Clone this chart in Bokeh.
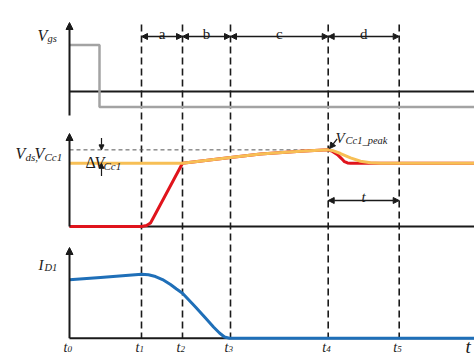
from bokeh.plotting import figure
from bokeh.models import Range1d, Label, Arrow, NormalHead
from bokeh.embed import file_html
from bokeh.resources import INLINE

# ---------------- data ----------------
t_marks = [0.0, 7.2, 11.3, 16.1, 25.87, 32.97]      # t0 .. t5
t_subs = ["0", "1", "2", "3", "4", "5"]
t_stop = 40.5
interval_names = ["a", "b", "c", "d"]

vgs_t = [0.0, 3.0, 3.0, 40.5]
vgs = [15, 15, -5, -5]

vds_t = [0.0, 7.2, 7.7, 8.1, 8.4, 11.3, 16.1, 19.1, 23.1, 25.87,
         26.3, 26.8, 27.2, 27.5, 27.8, 28.1, 40.5]
vds = [0, 0, 6, 22, 57, 400, 437, 459, 476, 485,
       475, 455, 430, 410, 402, 400, 400]

vcc1_t = [0.0, 11.3, 16.1, 19.1, 23.1, 25.87, 26.4, 27.1, 28.1, 29.1,
          30.1, 31.1, 40.5]
vcc1 = [400, 400, 437, 459, 476, 485, 479, 462, 434, 413, 403, 400, 400]
vcc1_peak = 485
vcc1_nom = 400

id_t = [0.0, 3.1, 7.2, 7.9, 8.6, 9.3, 10.1, 10.7, 11.3, 12.6, 13.6,
        14.4, 15.0, 15.5, 16.0, 40.5]
id1 = [18.25, 19.0, 20.0, 19.84, 19.28, 18.34, 16.78, 15.38, 14.06,
       9.75, 6.31, 3.5, 1.63, 0.38, 0.0, 0.0]

# ---------------- layout ----------------
W, H = 474, 356
X0_PX, X_SCALE = 69, 10.0


def yr(zero_px, px_per_unit):
    return Range1d(-(H - zero_px) / px_per_unit, zero_px / px_per_unit)


p = figure(width=W, height=H, output_backend="svg", toolbar_location=None,
           x_range=Range1d(-X0_PX / X_SCALE, (W - X0_PX) / X_SCALE),
           y_range=Range1d(H, 0), min_border=0,
           x_axis_type=None, y_axis_type=None)
p.extra_x_ranges = {"px": Range1d(0, W)}
p.extra_y_ranges = {"vgs": yr(91, 3.1), "vds": yr(226, 0.158), "id": yr(337.7, 3.2)}
p.outline_line_color = None
p.grid.visible = False
p.background_fill_color = "white"
p.border_fill_color = "white"

BLACK = "#1a1a1a"
SERIF = "Liberation Serif"

# vertical dashed time markers
p.segment(x0=t_marks[1:], y0=[24] * 5, x1=t_marks[1:], y1=[338] * 5,
          line_color=BLACK, line_width=1.6, line_dash="7 4")

# baselines
p.line([0, t_stop], [0, 0], y_range_name="vgs", line_color=BLACK, line_width=2)
p.line([0, t_stop], [0, 0], y_range_name="vds", line_color=BLACK, line_width=2)
p.line([0, t_stop], [0, 0], y_range_name="id", line_color=BLACK, line_width=2)

# vertical axes with arrows
for yb, yt in [(115, 22), (226, 133), (337.7, 247)]:
    p.add_layout(Arrow(x_start=0, y_start=yb, x_end=0, y_end=yt, line_width=2,
                       line_color=BLACK,
                       end=NormalHead(size=7, fill_color=BLACK, line_color=BLACK)))

# signals
p.line(vgs_t, vgs, y_range_name="vgs", line_color="#a3a3a3", line_width=2.5)
p.line([0, t_marks[4]], [vcc1_peak, vcc1_peak], y_range_name="vds",
       line_color="#555555", line_width=1, line_dash="4 3")
p.line(vds_t, vds, y_range_name="vds", line_color="#e0141c", line_width=3,
       line_join="round")
p.line(vcc1_t, vcc1, y_range_name="vds", line_color="#f7bf55", line_width=3,
       line_join="round")
p.line(id_t, id1, y_range_name="id", line_color="#1f6fb8", line_width=3,
       line_join="round")

# interval arrows a-d
for i, name in enumerate(interval_names):
    x0, x1 = t_marks[i + 1], t_marks[i + 2]
    p.add_layout(Arrow(x_start=x0, y_start=36, x_end=x1, y_end=36,
                       line_width=1.5, line_color=BLACK,
                       start=NormalHead(size=6, fill_color=BLACK, line_color=BLACK),
                       end=NormalHead(size=6, fill_color=BLACK, line_color=BLACK)))
    p.add_layout(Label(x=(x0 + x1) / 2, y=33, text=name, text_font=SERIF,
                       text_font_size="15px", text_align="center",
                       text_baseline="alphabetic", text_color=BLACK))

# duration arrow t
p.add_layout(Arrow(x_start=t_marks[4], y_start=200, x_end=t_marks[5], y_end=200,
                   line_width=1.5, line_color=BLACK,
                   start=NormalHead(size=6, fill_color=BLACK, line_color=BLACK),
                   end=NormalHead(size=6, fill_color=BLACK, line_color=BLACK)))
p.add_layout(Label(x=(t_marks[4] + t_marks[5]) / 2, y=196, text="t", text_font=SERIF,
                   text_font_size="15px", text_font_style="italic",
                   text_align="center", text_baseline="alphabetic", text_color=BLACK))

# delta V arrows
p.add_layout(Arrow(x_start=3.2, y_start=560, x_end=3.2, y_end=vcc1_peak,
                   y_range_name="vds", line_width=1.2, line_color=BLACK,
                   end=NormalHead(size=5, fill_color=BLACK, line_color=BLACK)))
p.add_layout(Arrow(x_start=3.2, y_start=320, x_end=3.2, y_end=vcc1_nom,
                   y_range_name="vds", line_width=1.2, line_color=BLACK,
                   end=NormalHead(size=5, fill_color=BLACK, line_color=BLACK)))
# peak arrow
p.add_layout(Arrow(x_start=26.77, y_start=555, x_end=26.0, y_end=vcc1_peak + 8,
                   y_range_name="vds", line_width=1.3, line_color=BLACK,
                   end=NormalHead(size=6, fill_color=BLACK, line_color=BLACK)))


def txt(x, y, s, size, italic=True, align="left", baseline="alphabetic"):
    p.add_layout(Label(x=x, y=y, text=s, x_range_name="px", text_font=SERIF,
                       text_font_size=f"{size}px",
                       text_font_style="italic" if italic else "normal",
                       text_align=align, text_baseline=baseline,
                       text_color=BLACK))


# axis labels
txt(37, 35, "V", 16)
txt(47, 38, "gs", 10.5)
txt(15, 153, "V", 16)
txt(25, 156, "ds,", 11)
txt(34, 153, "V", 16)
txt(44, 156, "Cc1", 11)
txt(85, 162, "Δ", 16, italic=False)
txt(94, 162, "V", 16)
txt(103, 165, "Cc1", 11)
txt(335, 137, "V", 15)
txt(345, 140, "Cc1_peak", 10.5)
txt(38, 264, "I", 15)
txt(44, 267, "D1", 10.5)
txt(465, 356, "t", 19, baseline="bottom")

# time tick labels
for tm, sub in zip(t_marks, t_subs):
    p.add_layout(Label(x=tm, y=339.5, x_offset=-2, text="t", text_font=SERIF,
                       text_font_size="14px", text_font_style="italic",
                       text_align="right", text_baseline="top",
                       text_color=BLACK))
    p.add_layout(Label(x=tm, y=345.5, x_offset=-2, text=sub, text_font=SERIF,
                       text_font_size="9px", text_font_style="italic",
                       text_align="left", text_baseline="top",
                       text_color=BLACK))

open("out.html", "w").write(file_html(p, INLINE))
